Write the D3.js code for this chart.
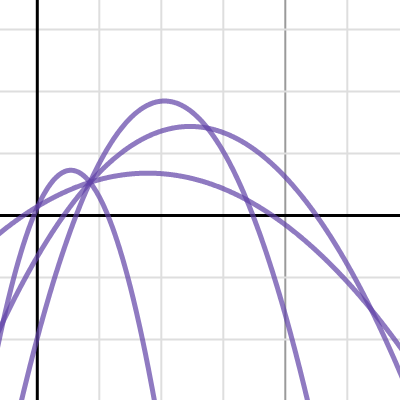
<!DOCTYPE html>
<html>
<head>
<meta charset="utf-8">
<script src="https://cdn.jsdelivr.net/npm/d3@7"></script>
<style>
  html, body { margin: 0; padding: 0; background: #fff; }
  svg { display: block; }
</style>
</head>
<body>
<div id="graph"></div>
<script>
// graph paper, four downward parabolas y = a*x^2 + b*x + c
const width = 400;
const height = 400;

// coefficients (one entry per curve)
const curveNames = ["narrow", "tall", "middle", "wide"];
const coefA = [-2.046, -0.908, -0.346, -0.1695];
const coefB = [2.215, 3.726, 1.705, 0.6047];
const coefC = [0.130, -1.976, -0.664, 0.1435];

// grid lines in graph units
const gridX = [1, 2, 3, 4, 5];
const gridY = [-2, -1, 1, 2, 3];
const majorX = [4];

const x = d3.scaleLinear().domain([-0.6016, 5.85]).range([0, width]);
const y = d3.scaleLinear().domain([-2.976, 3.476]).range([height, 0]);

const svg = d3.select("#graph")
  .append("svg")
  .attr("width", width)
  .attr("height", height);

// minor grid
svg.append("g")
  .selectAll("line")
  .data(gridX)
  .join("line")
  .attr("x1", d => x(d)).attr("x2", d => x(d))
  .attr("y1", 0).attr("y2", height)
  .attr("stroke", d => majorX.includes(d) ? "#9a9a9a" : "#dedede")
  .attr("stroke-width", 2);

svg.append("g")
  .selectAll("line")
  .data(gridY)
  .join("line")
  .attr("x1", 0).attr("x2", width)
  .attr("y1", d => y(d)).attr("y2", d => y(d))
  .attr("stroke", "#dedede")
  .attr("stroke-width", 2);

// axes
svg.append("line")
  .attr("x1", 0).attr("x2", width)
  .attr("y1", y(0)).attr("y2", y(0))
  .attr("stroke", "#000")
  .attr("stroke-width", 3);

svg.append("line")
  .attr("x1", x(0)).attr("x2", x(0))
  .attr("y1", 0).attr("y2", height)
  .attr("stroke", "#000")
  .attr("stroke-width", 3);

// curves
const xs = d3.range(x.domain()[0] - 0.1, x.domain()[1] + 0.1, 0.01);
const line = d3.line()
  .x(d => x(d[0]))
  .y(d => y(d[1]))
  .curve(d3.curveLinear);

svg.append("defs").append("clipPath")
  .attr("id", "clip")
  .append("rect")
  .attr("width", width)
  .attr("height", height);

svg.append("g")
  .attr("clip-path", "url(#clip)")
  .selectAll("path")
  .data(curveNames)
  .join("path")
  .attr("d", (name, i) => line(xs
    .map(t => [t, coefA[i] * t * t + coefB[i] * t + coefC[i]])
    .filter(p => p[1] > -4 && p[1] < 5)))
  .attr("fill", "none")
  .attr("stroke", "#6042a6")
  .attr("stroke-opacity", 0.7)
  .attr("stroke-width", 5)
  .attr("stroke-linecap", "round")
  .attr("stroke-linejoin", "round");
</script>
</body>
</html>
